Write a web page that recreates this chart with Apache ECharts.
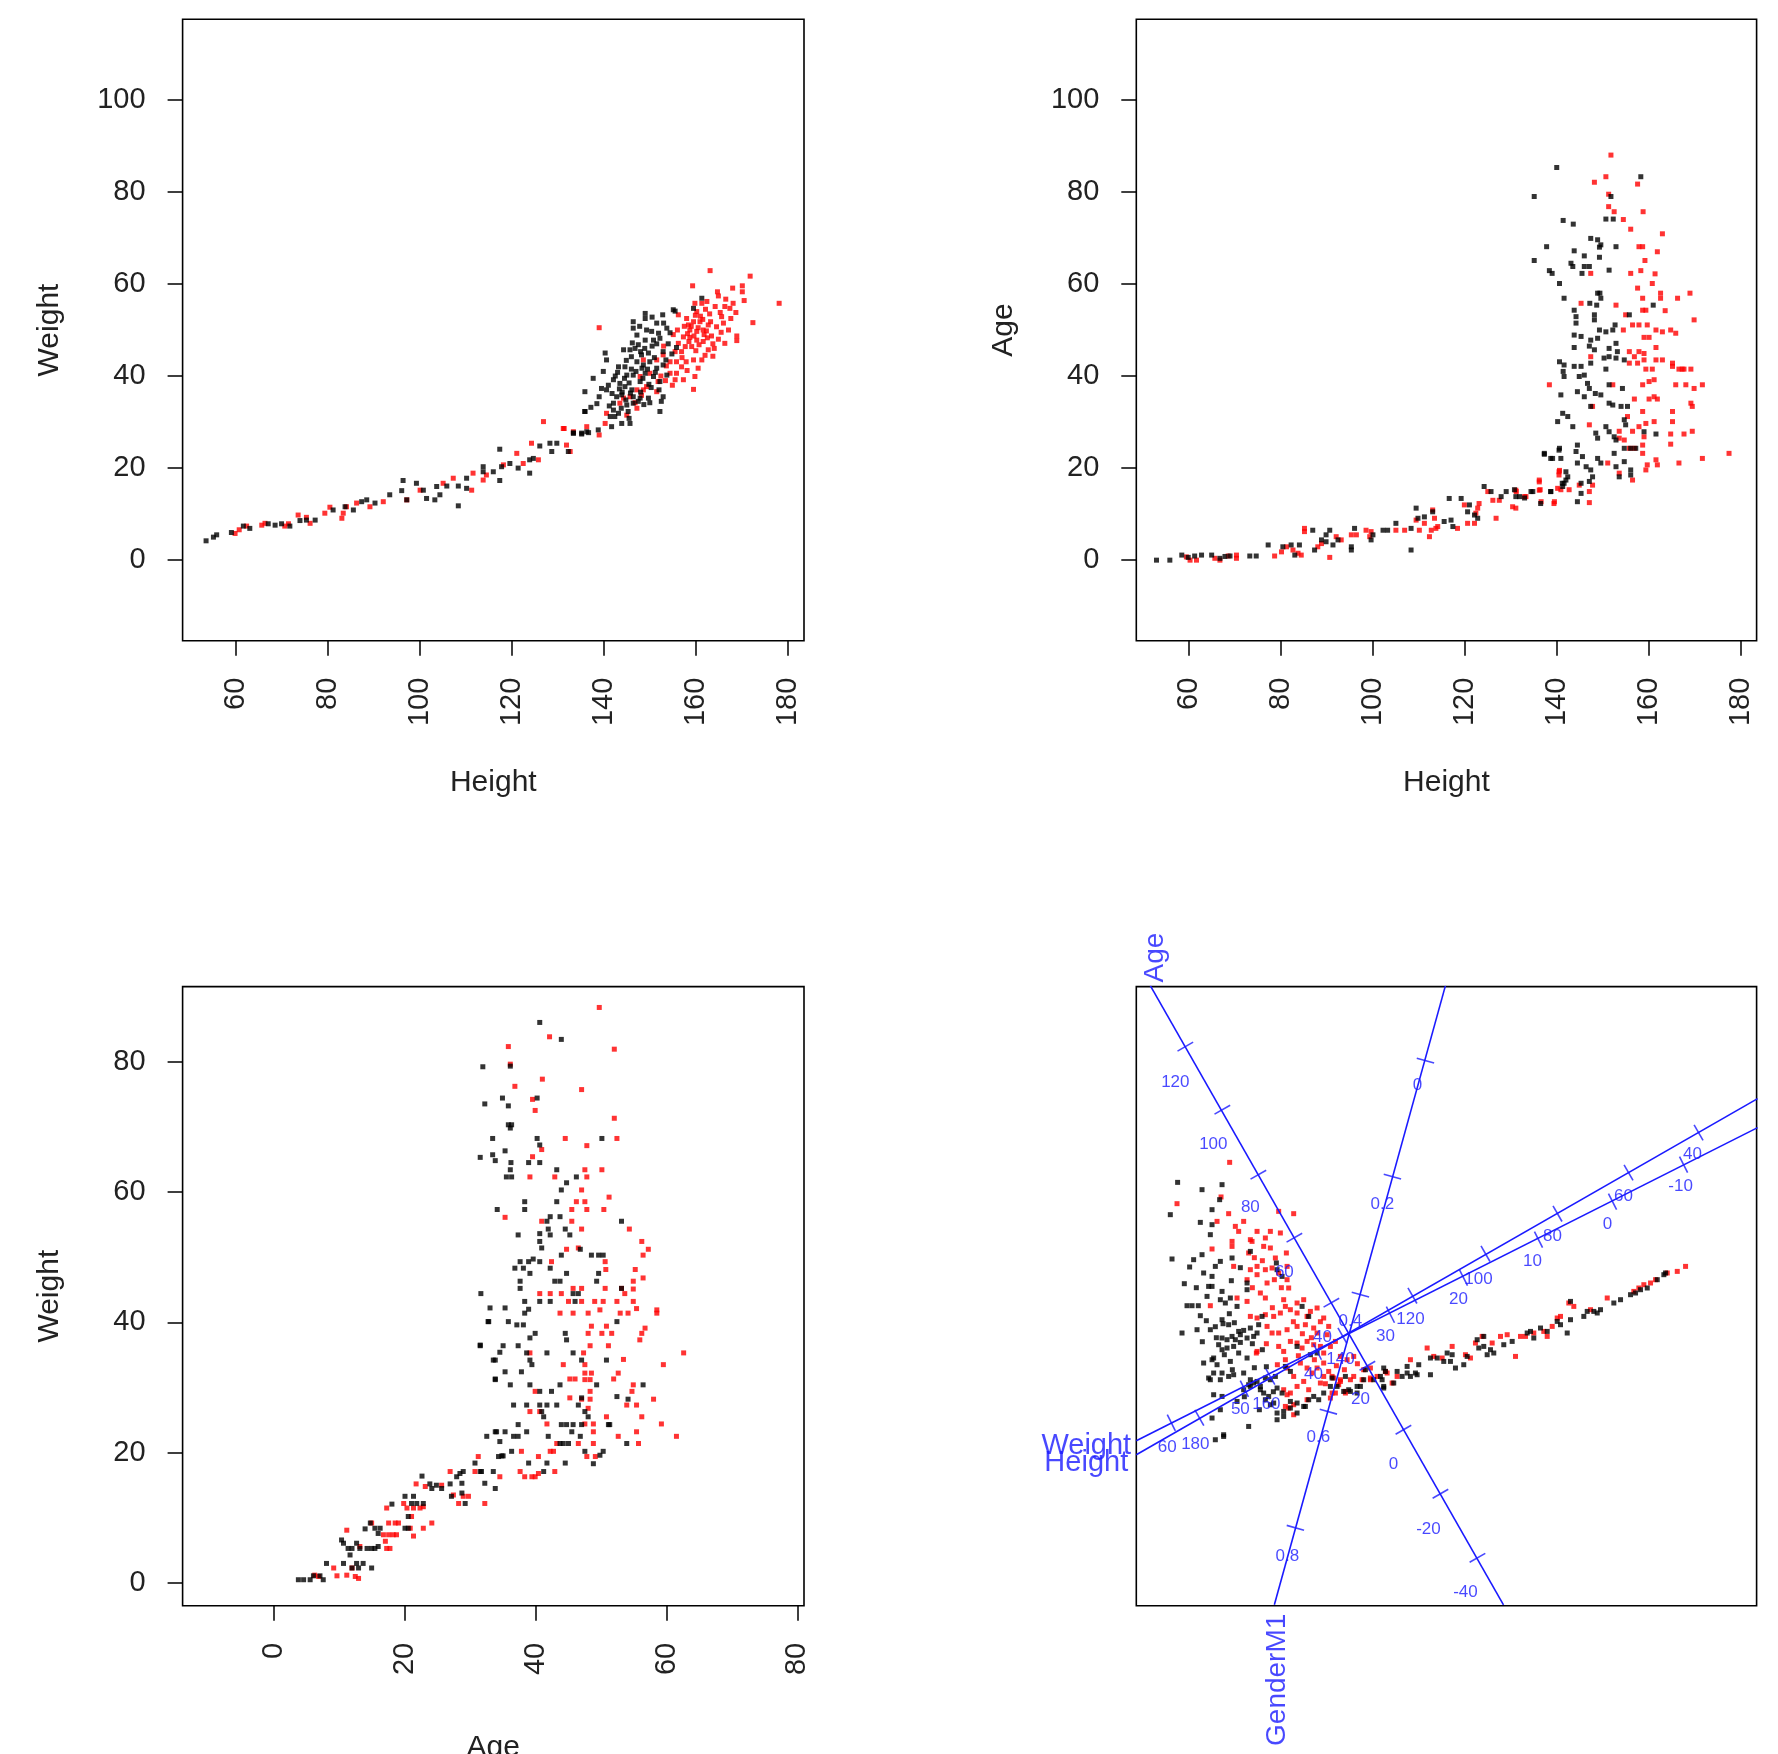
<!DOCTYPE html>
<html>
<head>
<meta charset="utf-8">
<title>Scatter matrix and biplot</title>
<script src="https://cdn.jsdelivr.net/npm/echarts@6/dist/echarts.min.js"></script>
<style>
  body { margin: 0; background: #fff; }
  #chart { width: 1778px; height: 1754px; }
</style>
</head>
<body>
<div id="chart"></div>
<script>
// ---- panel 1: Height vs Weight ----
var p1Red = [[163.1,62.9],[171.8,61.7],[159.3,59.6],[168,59.1],[170.1,59.6],[170.1,58.3],[164.7,58.3],[164.9,57.4],[166.5,56.7],[168.1,55.8],[178.1,55.8],[170.5,56.4],[159.8,55.8],[161.3,55.8],[162.4,56.2],[164.2,55.1],[166.3,55.1],[167.4,54.7],[160.2,54],[168.7,53.8],[156.2,53.3],[165.6,52.9],[172.4,51.6],[158,52.5],[159.5,51.8],[160.9,51.8],[139,50.5],[162.7,51.1],[164.5,50.7],[158.7,50],[160.2,49.7],[161.6,50],[167.1,50],[168.9,48.7],[168.9,47.7],[163.4,48.7],[166.3,47.1],[164.9,48],[157.3,48.5],[158.7,48.4],[160.2,47.8],[161.6,47.5],[156.2,47.1],[157.7,46.4],[159.1,46.4],[162.7,45.7],[155.5,45.3],[156.9,45.3],[152.9,44.6],[159.5,43.5],[161.3,43.5],[154.4,43.1],[155.8,43.1],[156.9,42],[160.5,41.7],[151.5,43.5],[148.6,43.5],[154.4,40.6],[155.8,40.6],[155.5,39.2],[157.3,39.2],[159.8,39.9],[159.5,37.1],[147.9,39.9],[150,40.6],[147.2,37],[148.6,37],[151.5,36.6],[145.7,35.5],[144.3,35.2],[143.5,34.1],[147.2,33],[140.6,31.9],[140.3,29.7],[139,27.2],[131.4,28.6],[133.4,27.9],[136.3,29],[145,31.5],[149.3,37.7],
  [159,50.8],[160.5,50.5],[161.8,49],[162.5,48.3],[158.2,49.2],[163.7,47],[157.5,50.8],[161,53],[163,53.5],[158.5,47.5],[160,45.5],[162,44.5],[157,44],[165.5,49.5],[166,51.5],[153.6,42.2],[152.4,40],[154.9,38],[151.8,38.8],[146.8,34.2],[148.2,35.8],[153,46.5],[155.1,49],
  [159.9,53.2],[161.5,52.3],[163.2,51.8],[162.1,54.5],[158.4,51.1],[160.7,46.8],[164,46],[162.3,49.8],[159.6,48.7],[157.9,43.1],[156,50],[165.3,53.8],[167.6,52.5],[163.7,44.3],[158.1,41.2],[153.4,39],
  [59.9,5.8],[60.8,6.6],[62.4,7.4],[65.7,7.6],[66.4,8],[70.7,7.4],[71.5,7.9],[73.6,9.8],[75.4,9.3],[76.2,8],[79.4,10.2],[80.5,11.5],[83.1,9.1],[83.4,10.2],[84.1,11.6],[86.3,12.4],[89.2,11.6],[92.1,12.7],[97.2,13.1],[100.1,15.2],[105.1,16.7],[107.3,17.8],[111.3,15.2],[111.6,18.9],[113.8,17.4],[114.5,18.5],[118.2,20.7],[121.1,23.2],[122.5,21],[124.3,25.4],[125.8,21.8],[126.9,30.1],[131.2,28.6],[131.9,25],[132.7,23.6]];
var p1Black = [[149,53.6],[149,52.5],[155.1,54.4],[155.5,54.1],[161.3,56.9],[159.5,54.7],[151.5,51.5],[146.4,51.8],[146.4,50.4],[153.7,50.4],[154.4,49.4],[149.3,50],[150.4,49.7],[147.2,48.9],[151.9,49.3],[149,47.8],[150.8,47.8],[152.2,48.2],[145.7,45.7],[146.8,46],[144.3,45.7],[140.3,45],[140.6,43.5],[148.2,44.6],[149.7,45],[152.9,45.3],[147.2,43.1],[148.6,42.4],[150,43.1],[143.2,42],[144.6,42],[139.9,41],[151.5,41.7],[152.9,42.4],[145,40.2],[146.4,40.2],[149,40.6],[150.8,39.9],[153.7,40.2],[137.7,39.5],[142.1,39.2],[143.5,38.4],[147.9,38.8],[152.2,38.8],[139.5,37.3],[140.6,37],[144.6,37.7],[146.1,37],[135.9,36.6],[142.8,35.5],[143.9,35.9],[146.4,35.5],[147.9,35.2],[149.7,35.2],[152.9,35.5],[138.5,34],[142.1,34.1],[145,33.7],[146.4,34.1],[142.1,32.6],[143.2,31.9],[135.9,32.3],[145.3,32.3],[152.2,32.3],[141.4,31.2],[142.4,31.2],[143.9,29.7],[145.7,29.7],[138.8,28.3],[141.7,29],[133.4,27.6],[135.2,27.4],[136.7,27.7],
  [146,44.2],[147.5,46.8],[148.9,46],[150.5,46.5],[151,44],[149.5,41.5],[145.5,38.5],[144,36.5],[141,38],[143,40.8],[148.5,39.5],[150.3,37.5],[152,37],[153.5,43.5],[154,47],[150.5,52.8],[152.8,53.3],[148,36.5],[146,41.5],[141.8,36.2],[144.8,34.8],
  [141.2,33.5],[143.8,33],[144.5,39.5],[145.8,36.3],[147,41],[148.3,41.7],[149.8,38.2],[151.2,40.8],[150,34.2],[147.5,34.5],[143.4,37.2],[142.5,40],[146.2,47.2],[148,45.3],[151.5,47],[153,51.5],[147.8,50.8],[144.9,43.4],[139,35.5],[137.2,33.2],[145.5,30.8],[148.7,33.8],[152.5,34.5],[154.8,44.8],[155.8,46.2],
  [53.6,4.2],[55.2,5],[55.9,5.5],[59.1,6],[61.7,7.4],[63.1,6.9],[67.1,7.9],[68.6,7.6],[70,7.9],[71.8,7.4],[74,8.6],[75.4,8.7],[77.3,8.7],[81.2,10.9],[83.8,11.6],[85.6,10.9],[87.4,12.7],[88.5,13.1],[90.3,12.4],[93.5,14.2],[96.4,17.3],[96.1,15.1],[97.2,13.1],[99.3,16.7],[100.8,15.2],[101.5,13.4],[103.3,13.1],[104.4,14.2],[103.7,16],[105.9,16.1],[108.4,11.8],[108.4,16.1],[110.2,17.8],[110.2,15.6],[113.8,20.3],[113.8,19.2],[116,19.2],[117.4,24.1],[117.8,20.3],[117.4,17.3],[119.6,21],[121.4,20],[123.9,21.8],[123.9,18.9],[124.7,22.1],[126.1,24.8],[128.3,25.4],[128.7,23.6],[129.8,25.4],[132.3,23.6],[133.4,27.6],[135.2,27.6],[135.9,32.3],[136.3,27.9]];

// ---- panel 2: Height vs Age ----
var p2Red = [[151.8,88],[150.7,83.3],[148.2,82.1],[157.6,81.7],[151.3,79.5],[151.3,76.8],[152.5,75.7],[158.8,75.7],[154.5,74],[156.1,71.9],[163,70.9],[157.9,68.1],[158.7,68.1],[161.9,67],[159.2,65.1],[147.4,62.3],[156.1,62.3],[158.3,62.9],[161.4,62.2],[157.6,59.1],[160.8,60.1],[145.3,55.8],[152.9,55.4],[158.7,56.9],[162.6,58],[162.6,56.9],[166.3,56.9],[169,58],[155,53.3],[158.7,54.3],[159.4,54.3],[163.6,54.2],[169.9,52.2],[154.5,50],[156.5,51.1],[157.9,51.1],[159.7,51.1],[161.6,50],[163,49.6],[164.8,50],[165.9,49.3],[159,48.4],[160.1,48.4],[161.6,46.2],[155.8,45.3],[156.9,44.2],[157.9,45.3],[159,44.9],[159,43.5],[161.6,43.5],[163,43.5],[165.2,42.8],[167.3,41.5],[169.2,41.5],[147.4,44.2],[155.8,42.8],[157.6,42.8],[159.4,41.5],[160.8,41.5],[165.2,42.1],[166.6,41.5],[167.7,41.5],[138.4,38.1],[152.2,38.1],[158.7,38.1],[160.1,38.8],[161.2,39.2],[165.9,38.1],[168.1,38.1],[169.9,37.3],[171.7,38.1],[156.9,35],[160.1,35],[161.2,35.5],[161.9,35],[169.2,34.1],[147.8,33.4],[155.4,31.2],[158.7,32.3],[165.2,32.3],[165.2,30.1],[169.5,33.4],[147.1,29.4],[153.6,28],[156.5,28],[157.9,29],[159.4,29.7],[161.2,30.1],[159,26.8],[164.8,27.4],[167.7,27.4],[169.5,28],[153.6,26.5],[154.7,26.1],[155.8,24.3],[156.9,24.3],[158.7,25],[158.7,23.2],[164.8,25.2],[151.1,21.1],[159.7,20.7],[161.6,21.8],[161.9,20.7],[166.6,21.1],[171.7,22.1],[177.5,23.2],[140.6,19.5],[153.6,18.9],[159.4,19.6],[156.5,17.4],[140.9,15.3],[142.7,15.3],[144.9,16.3],[147.8,16.3],[147.1,14.9],[136.2,17.4],[136.4,15.3],[131.2,14.9],[133,13.8],[136.6,12.7],[139.5,12.7],[147.1,12.5],[130.4,11.6],
  [59.4,0.7],[60.2,0],[61.6,0],[65.6,0.4],[66.7,0],[68.5,0.9],[70.3,0.4],[70.3,1.1],[78.6,0.9],[80.1,1.8],[81.2,2.9],[82.6,2.2],[83.7,1.5],[84.4,1.1],[85.1,6.9],[85.1,6.2],[88,2.9],[88.8,3.6],[90.6,0.6],[92,5.1],[93.1,4.4],[95.3,5.5],[96.4,5.5],[98.5,6.5],[99.6,6.2],[99.3,5.1],[105,6.5],[106.9,6.5],[109.4,8.7],[110.1,6.5],[111.2,8],[112.3,5.1],[112.7,6.5],[113,10.9],[113.4,9.1],[113.7,6.9],[114.1,7.3],[118.4,6.9],[119.9,12],[120.6,8],[122.1,8],[122.8,11.3],[122.4,10.2],[123.1,12.3],[125,14.9],[126.1,13],[126.8,9.1],[127.5,13],[131.1,15.2],[131.1,11.3],[133.3,13.8],[136.2,17],[136.2,15.2],[139.4,12.3],[140.2,15.6],[140.5,19.2],[140.5,18.5]];
var p2Black = [[140,85.3],[158.3,83.3],[135.1,79],[151.8,79],[141.4,73.8],[143.6,73],[150.7,74.1],[152.3,74.1],[147.4,69.9],[148.9,69.6],[149.6,68.5],[149.3,68],[152.9,68.1],[137.8,68.1],[143.8,67.2],[146,66.1],[149.3,65.8],[135.1,65.1],[143.1,64.5],[143.5,63.8],[146,63.8],[147.1,63.8],[145.5,62.3],[151.4,63],[138.4,62.9],[139,62.3],[140.6,60.1],[141.6,56.9],[148.9,58],[149.4,58],[147.2,55.8],[148.7,55.4],[149.6,56.9],[161,55.4],[143.8,54.3],[144.2,52.9],[144.2,51.5],[148.2,53.3],[148.2,52.2],[155.8,53.3],[152.7,51.1],[152.2,50],[150.7,49.6],[149.3,50],[143.8,48.9],[145.3,48.6],[147.4,47.8],[148.9,48.2],[143.8,46.2],[147.1,46.5],[148.2,45.7],[151.4,46],[152.9,47.1],[153.2,45.3],[140.6,43.1],[141.6,42.4],[143.8,42.1],[145.3,42.1],[147.4,42.8],[150.7,41.5],[150.3,43.9],[151.4,44.2],[152.9,43.9],[154.7,43.5],[141.4,41],[141.6,39.9],[144.9,39.9],[146,40.2],[147.1,37.3],[146.7,38.4],[148.4,36.2],[149.6,35.9],[151.4,38.1],[154.3,37.3],[140.9,35.9],[144.5,36.6],[146,35.5],[147.4,33.4],[151.4,34.1],[152.2,33.7],[154,33.4],[155.4,33.4],[141.3,31.9],[142.4,31.2],[140.2,30.1],[154.7,30.5],[155,29.4],[143.5,29],[148.5,27.6],[148.9,26.5],[150.7,29],[151.4,27.9],[152.5,26.8],[152.9,26.1],[154.7,24.3],[156.1,24.3],[157.2,24.3],[159,27.9],[161.6,27.4],[137.3,23.2],[138.7,22.1],[140.6,24.3],[144.5,25],[144.2,23.6],[145.6,22.5],[144.5,21.1],[146.4,20.3],[147.4,19.6],[148.9,22.1],[149.6,21.1],[152.5,23.2],[154.7,21.4],[156.1,19.6],[156.1,18.5],[142,19.2],[142.4,18.1],[141.6,16.7],[145.3,16.7],[147.1,17.1],[147.8,18.1],[152.9,20.3],[153.6,18.1],[134.8,14.9],[138.7,14.9],[141.3,16],[144.5,12.7],[130.8,15.3],[131.9,13.8],[133,13.5],[145.3,14.5],
  [52.9,0],[55.8,0],[58.4,1.1],[59.8,0.6],[61.2,0.9],[62.7,1.1],[64.9,1.1],[66.7,0.4],[67.8,0.8],[68.9,0.9],[73.2,0.9],[74.6,0.9],[77.2,3.3],[80.4,2.9],[82.2,3.3],[84,3.3],[83,1.1],[86.9,6.5],[87.3,2.2],[88.8,4.4],[89.8,5.5],[90.6,6.5],[89.8,4],[91.3,3.3],[92.4,4.4],[95.3,2.9],[95.3,2.2],[96,6.9],[99.6,4.4],[100,5.5],[102.2,6.5],[103.2,6.5],[105,8],[108.3,2.2],[108.3,6.9],[109.4,11.3],[109.8,9.1],[111.2,9.4],[113,10.5],[115.5,8.4],[117,8.7],[117.4,7.3],[116.6,13.4],[119.2,13.4],[120.6,10.5],[121,12],[122.8,9.1],[122.1,9.8],[124.2,16],[125.7,14.9],[127.9,13.8],[129,14.9],[131.1,13.8],[134.4,14.9],[136.5,12.3],[138.7,14.9],[137.3,23],[139.1,22.1],[140.9,22.1],[140.5,23.9],[141.2,16.7],[142,17.4]];

// ---- panel 3: Age (x) vs Weight (y) ----
var p3Red = [[49.7,88.3],[42.1,83.8],[35.8,82.3],[52,81.9],[36.1,79.6],[41,77.3],[36.8,76.2],[47,75.7],[39.5,74.2],[39.9,72.5],[52,71.3],[44.5,68.2],[47.8,67.1],[52.4,68.2],[40.9,66.5],[39.5,65.4],[39.1,62.3],[42.9,62.3],[47.5,63.4],[47.8,62.3],[50.1,63.4],[47,60.3],[51.2,59.2],[46.2,58.5],[47.5,58.5],[45.5,57.3],[47.8,57.3],[50.4,57.3],[35.3,56.1],[40.9,55.5],[45.5,55.5],[47,54.3],[54.3,54.3],[56.2,52.4],[44.7,51.2],[46.5,51.4],[57.2,51.2],[56.4,50.3],[42.4,49.3],[50.6,49.3],[50.7,48.1],[55.2,48.1],[54.9,46.3],[54.9,45.1],[53.6,44.4],[56.4,46.8],[40.6,44.4],[42.2,44.4],[43.9,44.4],[45.7,45.2],[47,45.2],[50.6,45.2],[53.1,45.2],[45,43.2],[47,43.2],[49,43.2],[50.3,43.2],[52.4,43.2],[54.9,43.2],[43.7,41.4],[45.7,41.4],[48,41.4],[49.8,41.9],[52.9,41.4],[54.1,41.4],[55.4,42.1],[58.5,41.9],[58.5,41.4],[48.5,39.4],[50.8,39.4],[48,38.3],[50.1,38.3],[51.6,38.3],[56.2,38.3],[56.7,39.1],[39.1,35.3],[47.3,35.3],[48.3,36.4],[51.1,36.4],[53.4,34.3],[55.9,37.3],[62.6,35.3],[44.2,33.5],[47.5,33.5],[59.5,33.5],[45.2,31.3],[46,31.3],[47.5,32.2],[48.5,32.2],[47.5,31.2],[48.3,31.2],[51.9,31.3],[52.6,32.2],[54.9,30.4],[39.9,29.4],[45.2,28.4],[47,28.2],[48.3,29.4],[48.3,28.2],[54.7,29.4],[58,28.2],[39.1,26.3],[40.6,26.3],[48,26.8],[50.8,25.5],[53.9,27.3],[55.4,27.3],[56.2,25.5],[41.7,24.4],[47.5,24.4],[48.8,24.4],[48.8,23.2],[59.2,24.4],[43.2,21.4],[46.5,21.4],[48.8,21.4],[52.6,22.5],[55.4,23.2],[55.7,21.4],[61.5,22.5],[37.8,20.2],[40.4,19.4],[42.2,20.2],[42.7,20.2],[47.8,19.4],[49.1,19.4],[31.2,19.4],[30.7,17.1],[34.5,16.3],[37.6,17.1],[38.3,16.3],[39.4,16.3],[39.9,16.3],[40.4,16.8],[42.9,17.1],
  [26.9,17.1],[21.7,15.2],[23.1,14.8],[25.6,15],[27.4,13.5],[28.9,13.3],[29.7,13.3],[28.2,12.2],[32.2,12.2],[19.8,12.2],[20.3,11.5],[21.3,11.5],[22.3,11.5],[22.8,11.7],[17.2,11.5],[21,10.2],[14.9,9.2],[17.5,9.2],[18.5,9.2],[19,9.2],[20.8,8.4],[24.1,9.2],[22.8,8.4],[11.1,8.1],[16.7,7.4],[17.5,7.4],[18.2,7.4],[18.7,7.4],[21.3,7.2],[17,6.4],[17.2,5.3],[17.7,5.3],[13.1,5.6],[9.1,2.3],[11.9,2.3],[6.2,1.2],[6.8,1],[9.6,1.1],[11.1,1.2],[12.4,1],[12.9,0.7]];
var p3Black = [[40.6,86],[43.9,83.4],[31.9,79.2],[36.1,79.3],[34.9,74.4],[40.2,74.4],[32.2,73.5],[35.8,73.2],[35.8,70.3],[36.1,69.8],[36.3,70.3],[33.4,68.2],[40.2,68.2],[50.1,68.2],[40.6,67.2],[35.3,66.3],[31.5,65.3],[33.4,65.7],[33.8,64.8],[36.2,64.5],[38.9,64.5],[40.6,64.5],[36.1,63.4],[35.5,62.3],[36.3,62.3],[43.2,63.4],[46.2,62.3],[44.7,61.4],[43.9,60.3],[38.3,58.5],[38.3,57.3],[43.2,58.5],[34.1,57.3],[42.2,56.2],[43.7,56.2],[53.1,55.5],[41.7,55.5],[44.5,54.3],[45.2,53.4],[41.9,54.3],[40.6,53.6],[42.2,53.4],[37.3,53.4],[40.6,52.4],[40.9,51.4],[43.9,50.3],[46.8,51.2],[48.5,50.3],[49.6,50.3],[50.3,50.3],[37.6,49.3],[38.9,49.3],[39.6,49.7],[40.6,49.3],[36.8,48.3],[38.1,48.3],[39.1,47.5],[42.2,48.3],[44.7,47.5],[49.6,47.5],[37.6,46.3],[37.6,45.2],[42.9,46.3],[43.7,46.3],[49.3,46.3],[53.1,45.2],[31.6,44.4],[38.3,43.2],[40.6,43.2],[42.2,43.2],[45.7,44.4],[46.5,44.4],[46,43.2],[33,42.2],[35.3,42.2],[38.3,41.4],[38.9,42],[32.7,40.1],[35.8,40.1],[37.1,39.6],[38.1,39.6],[52.4,40.1],[39.9,38.3],[39.1,37.6],[44.5,38.3],[44.7,37.3],[31.5,36.4],[35,36.4],[37.3,36.4],[38.6,35.3],[39.1,34.2],[39.4,33.5],[41.7,35.3],[45.7,35.3],[47,34.2],[50.8,34.2],[33.5,34.2],[34.5,35.4],[35.3,32.4],[37.8,32.4],[33.8,31.3],[36.1,30.4],[39.1,30.4],[40.6,29.4],[42.4,29.4],[43.7,30.4],[49.3,30.4],[56.4,30.4],[36.6,27.3],[38.6,27.3],[40.6,27.3],[41.7,27.3],[43.2,27.3],[46.5,27.3],[40.9,26.3],[41.2,25.5],[47.5,26.3],[48,25.5],[47,28.4],[54.1,28.2],[52.4,28.6],[37.3,24.3],[43.9,24.3],[44.7,24.3],[45.7,24.3],[47,24.3],[51.1,24.3],[51.3,24.3],[34,23.2],[35.3,23.2],[36.6,22.5],[37.3,22.5],[38.6,23.2],[41.9,22.5],[45.5,23.2],[34.5,21.7],[43.7,21.4],[44.2,21.4],[45,21.4],[46.8,22.5],[53.9,21.4],[34.8,19.5],[35,19.5],[36.3,20.2],[47.5,20.2],[49.8,19.6],[50.3,20.2],[48.8,18.3],[30.7,18.4],[31.7,17.1],[33.5,17.1],[38.9,18.4],[41.7,18.4],[44.5,18.4],[41.2,17.1],[28.9,17.1],
  [32.8,40.1],[31.5,36.5],[33.8,34.2],[33.8,31.2],[32.5,22.5],[33.8,23.2],[34.3,19.4],[31.5,17.1],[32.2,15.3],[33.8,14.5],[22.6,16.4],[28.4,16.8],[27.9,16.3],[28.7,15.3],[26.9,15.2],[28.7,13.8],[29.2,12.2],[23.8,15.2],[24.8,15],[25.6,14.5],[24.1,14.5],[20,13.3],[21.3,13.3],[21.8,12.2],[22.8,12.2],[21,12.2],[27.1,13.3],[18,12.1],[20.5,10.2],[13.9,8.3],[15.4,8.4],[16.2,8.4],[20,8.4],[20.5,8.4],[15.9,7.6],[14.7,9.2],[10.3,6.6],[10.6,6.1],[11.3,5.3],[11.9,5.3],[12.6,6.1],[13.1,5.3],[14.2,5.3],[14.9,5.3],[15.4,5.3],[15.9,5.6],[11.6,4.3],[12.6,3],[10.6,3],[13.6,3],[14.9,2.3],[8,3],[11.9,2.3],[12.9,2.3],[6,1.1],[7,1.1],[3.7,0.5],[4.5,0.5],[5.5,0.5],[7.5,0.5]];

// ---- panel 4: biplot point coordinates (biplot frame) ----
var p4Black = [[41.3,423.3],[65.7,416],[85.7,421],[83.3,406],[75.7,396],[34,391],[64,383.3],[75.7,381],[74,371],[35.7,346.7],[57.3,346],[65.7,351],[53.3,338.7],[67.3,332.7],[75.7,329.3],[79,339.3],[84,344.3],[95.7,347.7],[114,354.3],[140,342.7],[140.7,336],[145.7,329.3],[72.3,319.3],[75.7,319.3],[70.7,309.3],[85.7,314.3],[84,306],[94,307.7],[89,302.7],[110.7,322.7],[110.7,316],[100.7,299.3],[50.7,300],[55.7,300],[64,290],[85.7,286],[86.7,282],[92.3,281],[45.7,272.7],[60.7,276],[74,276],[85.7,267.7],[90.7,266],[95.7,269.3],[99,266],[102.3,274.3],[104,271],[107.3,275.3],[114,277.7],[122.3,281],[125.7,289.3],[82.3,261],[85.7,256],[90.7,257.7],[97.3,259.3],[104,263.3],[110.7,267.7],[117.3,269.3],[120.7,272.7],[67.3,242.7],[75.7,246],[77.3,247.7],[80.7,241],[94,244.3],[102.3,252.7],[110.7,247.7],[72.3,227.7],[77.3,232.7],[84,226],[92.3,229.3],[107.3,232.7],[114,226],[114,219.3],[120.7,224.3],[124,216],[129,227.7],[134,226],[139,229.3],[140.7,217.7],[149,239.3],[154,234.3],[145.7,212.7],[129,206],[134,201],[140.7,192.7],[147.3,189.3],[154,197.7],[160.7,202.7],[169,199.3],[177.3,209.3],[182.3,206],[187.3,212.7],[194,219.3],[195.7,227.7],[209,229.3],[212.3,216],[224,219.3],[220.7,212.7],[244,229.3],[247.3,219.3],[165.7,299.3],[172.3,289.3],[174,251],[180.7,252.7],[160.7,259.3],[112.3,179.3],[87.3,169.3],[75.7,187.7],[84,196],
  [74,226],[85.7,232.7],[97.3,231],[77.3,211],[85.7,209.3],[100.7,204.3],[107.3,216],[112.3,221],[117.3,222.7],[124,219.3],[127.3,212.7],[132.3,209.3],[137.3,202.7],[140.7,186],[147.3,194.3],[154,204.3],[160.7,192.7],[167.3,199.3],[172.3,206],[79,166],[87.3,171],[294,231],[280.7,231],[270.7,232.7],[257.3,222.7],[247.3,217.7],
  [62,300],[70,285],[79,279],[93,292],[98,283],[66,264],[80,268],[116,262],[126,256],[130,239],[96,236],[88,251],[118,238],[108,209],[123,196],[137,214],[60,318],[48,322],[95,325],[104,338],
  [200.7,219.3],[207.3,214.3],[214,214.3],[220.7,219.3],[227.3,226],[229,236],[237.3,226],[245.7,226],[247.3,237.7],[249,234.3],[260.7,234.3],[265.7,229.3],[270.7,239.3],[274,229.3],[279,232.7],[282.3,241],[294,247.7],[300.7,247.7],[307.3,244.3],[310.7,252.7],[314,244.3],[315.7,251],[319,237.7],[327.3,241],[330.7,249.3],[340.7,266],[342.3,257.7],[347.3,259.3],[347.3,269.3],[350.7,251],[354,256],[357.3,252.7],[367.3,261],[375.7,264.3],[390.7,272.7],[397.3,267.7],[394,274.3],[404,277.7],[410.7,274.3],[420.7,284.3],[424,281],[430.7,272.7],[434,304.3],[434,286],[447.3,289.3],[450.7,294.3],[457.3,294.3],[460.7,292.7],[464,296],[477.3,302.7],[484,306],[494,311],[499,312.7],[504,316],[510.7,317.7],[520.7,326],[527.3,331],[529,332.7]];
var p4Red = [[93.3,443.3],[40.7,402],[84.7,408.7],[92.3,392],[142.3,394.3],[157.3,392],[80.7,384.3],[99,379.3],[107.3,384.3],[95.7,364.3],[114,366],[120.7,374.3],[129,367.7],[134,374.3],[144,372.7],[102.3,374.3],[75.7,356.7],[95.7,359.3],[112.3,352.7],[115.7,364.3],[127.3,359.3],[134,357.7],[150,352.7],[97.3,339.3],[114,336],[120.7,339.3],[120.7,331],[129,336],[135.7,337.7],[142.3,332.7],[150.7,339.3],[139,347.7],[110.7,326],[130.7,322.7],[150.7,326],[152.3,317.7],[124,312.7],[129,307.7],[147.3,306],[149,299.3],[160.7,302.7],[167.3,306],[74,300],[100.7,307.7],[110.7,304.3],[114,289.3],[120.7,287.7],[129,291],[137.3,289.3],[144,292.7],[154,296],[160.7,292.7],[170.7,289.3],[174,294.3],[180.7,297.7],[187.3,287.7],[130.7,279.3],[135.7,272.7],[142.3,272.7],[150.7,276],[160.7,279.3],[169,281],[177.3,277.7],[180.7,272.7],[190.7,271],[192.3,279.3],[199,264.3],[120.7,254.3],[142.3,259.3],[147.3,254.3],[149,246],[154,264.3],[160.7,262.7],[165.7,257.7],[170.7,264.3],[177.3,261],[184,259.3],[187.3,252.7],[194,259.3],[204,249.3],[210.7,246],[217.3,249.3],[227.3,236],[234,226],[150.7,237.7],[157.3,229.3],[164,242.7],[170.7,237.7],[175.7,232.7],[180.7,237.7],[187.3,242.7],[187.3,229.3],[192.3,234.3],[195.7,229.3],[199,212.7],[195.7,212.7],[204,224.3],[214,226],[225.7,226],[147.3,216],[154,212.7],[160.7,219.3],[167.3,224.3],[152.3,197.7],[157.3,191],[149,199.3],[170.7,206],[120,252.7],
  [150.7,211],[157.3,201],[172.3,216],[184,222.7],[194,207.7],[202.3,221],[209,214.3],[234,227.7],[250.7,232.7],[260.7,229.3],
  [118,348],[126,345],[138,326],[145,318],[116,318],[136,298],[157,284],[166,272],[175,268],[184,284],[200,240],[208,236],[141,241],[130,262],[162,250],[178,246],[189,222],[221,242],
  [197.3,227.7],[204,226],[209,212.7],[217.3,229.3],[234,237.7],[240.7,229.3],[249,234.3],[255.7,222.7],[274,246],[290.7,257.7],[297.3,249.3],[305.7,247.7],[315.7,259.3],[329,251],[334,247.7],[339,262.7],[345.7,269.3],[355.7,262.7],[364,269.3],[370.7,271],[379,249.3],[384,269.3],[389,269.3],[397.3,272.7],[407.3,274.3],[410.7,269.3],[415.7,279.3],[420.7,287.7],[424,289.3],[432.3,302.7],[437.3,299.3],[454,296],[470.7,307.7],[497.3,314.3],[502.3,317.7],[507.3,321],[514,322.7],[519,326],[530.7,332.7],[540.7,334.3],[549,339.3]];

// ---- biplot calibrated axes (biplot frame) ----
var ageLine = [[14,620],[367,1]];
var genderLine = [[309,620],[138,1]];
var heightLine = [[0,151],[621,507]];
var weightLine = [[0,165],[621,478]];

var ageTickVals = ['120','100','80','60','40','20','0','-20','-40'];
var ageTickPos = [[49,559],[86,496],[122,431],[158,368],[195,303],[231,240],[267,176],[304,112],[341,48]];
var ageLabelPos = [[39,523],[77,461],[114,398],[148,333],[186,268],[224,206],[257,141],[292,76],[329,13]];

var genderTickVals = ['0','0.2','0.4','0.6','0.8'];
var genderTickPos = [[289,545],[256,429],[224,311],[192,194],[159,78]];
var genderLabelPos = [[281,520],[246,401],[214,284],[182,168],[151,49]];

var heightTickVals = ['40','60','80','100','120','140','160','180'];
var heightTickPos = [[562,473],[492,433],[421,392],[349,352],[276,310],[206,270],[134,229],[63,188]];
var heightLabelPos = [[556,451],[487,409],[416,369],[342,326],[274,286],[204,246],[130,201],[59,161]];

var weightTickVals = ['-10','0','10','20','30','40','50','60'];
var weightTickPos = [[547,441],[476,404],[402,366],[327,328],[254,291],[181,254],[108,217],[35,183]];
var weightLabelPos = [[544,419],[471,381],[396,344],[322,306],[249,269],[177,231],[104,196],[31,158]];

// ---- axis ticks for the scatter panels ----
var heightTicks = [60,80,100,120,140,160,180];
var yTicks0to100 = [0,20,40,60,80,100];
var ageTicks = [0,20,40,60,80];
var weightTicks = [0,20,40,60,80];

var FONT = 'Liberation Sans, Arial, Helvetica, sans-serif';
var TXT = '#222';
var BLUE = '#1a1aff';

function valAxis(gi, min, max, ticks, name, isX) {
  return {
    gridIndex: gi, type: 'value', min: min, max: max,
    name: name, nameLocation: 'middle', nameGap: isX ? 127 : 118,
    nameTextStyle: { fontSize: 30, color: TXT, fontFamily: FONT },
    splitLine: { show: false },
    axisLine: { show: false, onZero: false },
    axisTick: { show: true, length: 15, customValues: ticks, lineStyle: { color: '#000', width: 1.5 } },
    axisLabel: { customValues: ticks, rotate: isX ? 90 : 0, margin: 37, fontSize: 29, color: TXT, fontFamily: FONT }
  };
}
function hiddenAxis(gi, min, max) {
  return { gridIndex: gi, type: 'value', min: min, max: max, show: false, splitLine: { show: false },
    axisLine: { onZero: false } };
}

function pts(gi, data, color) {
  return { type: 'scatter', xAxisIndex: gi, yAxisIndex: gi, data: data, symbol: 'rect', symbolSize: 5,
    itemStyle: { color: color }, silent: true };
}
function bLine(line) {
  return { type: 'line', xAxisIndex: 3, yAxisIndex: 3, data: line, showSymbol: false, silent: true,
    lineStyle: { color: BLUE, width: 1.6 } };
}
function bTicks(line, pos) {
  var ang = Math.atan2(line[1][1] - line[0][1], line[1][0] - line[0][0]) * 180 / Math.PI;
  return { type: 'scatter', xAxisIndex: 3, yAxisIndex: 3, data: pos, symbol: 'rect', symbolSize: [1.6, 18],
    symbolRotate: ang, itemStyle: { color: BLUE }, silent: true };
}
function bLabels(vals, pos) {
  return { type: 'scatter', xAxisIndex: 3, yAxisIndex: 3, symbolSize: 0, silent: true, clip: false,
    data: pos.map(function (p, i) { return { value: p, name: vals[i] }; }),
    label: { show: true, position: 'inside', formatter: '{b}', fontSize: 17, color: BLUE, fontFamily: FONT } };
}
function bName(text, p, opts) {
  var lab = Object.assign({ show: true, position: 'inside', formatter: '{b}', fontSize: 29, color: BLUE, fontFamily: FONT }, opts);
  return { type: 'scatter', xAxisIndex: 3, yAxisIndex: 3, symbolSize: 0, silent: true, clip: false,
    data: [{ value: p, name: text }], label: lab };
}

var gridStyle = { show: true, borderColor: '#000', borderWidth: 1.6, backgroundColor: 'transparent',
  containLabel: false, outerBoundsMode: 'none' };
var option = {
  animation: false,
  backgroundColor: '#fff',
  grid: [
    Object.assign({ left: 182.6, top: 19.3, width: 621.4, height: 621.4 }, gridStyle),
    Object.assign({ left: 1136.3, top: 19.3, width: 620.3, height: 621.4 }, gridStyle),
    Object.assign({ left: 182.6, top: 986.6, width: 621.4, height: 619.2 }, gridStyle),
    Object.assign({ left: 1136.3, top: 986.6, width: 620.3, height: 619.2 }, gridStyle)
  ],
  xAxis: [
    valAxis(0, 48.5, 183.5, heightTicks, 'Height', true),
    valAxis(1, 48.5, 183.5, heightTicks, 'Height', true),
    valAxis(2, -14, 81, ageTicks, 'Age', true),
    hiddenAxis(3, 0, 620)
  ],
  yAxis: [
    valAxis(0, -17.5, 117.5, yTicks0to100, 'Weight', false),
    valAxis(1, -17.5, 117.5, yTicks0to100, 'Age', false),
    valAxis(2, -3.5, 91.5, weightTicks, 'Weight', false),
    hiddenAxis(3, 0, 619)
  ],
  series: [
    pts(0, p1Red, '#ff0000'), pts(0, p1Black, '#000000'),
    pts(1, p2Red, '#ff0000'), pts(1, p2Black, '#000000'),
    pts(2, p3Red, '#ff0000'), pts(2, p3Black, '#000000'),
    pts(3, p4Red, '#ff0000'), pts(3, p4Black, '#000000'),
    bLine(ageLine), bLine(genderLine), bLine(heightLine), bLine(weightLine),
    bTicks(ageLine, ageTickPos), bTicks(genderLine, genderTickPos),
    bTicks(heightLine, heightTickPos), bTicks(weightLine, weightTickPos),
    bLabels(ageTickVals, ageLabelPos), bLabels(genderTickVals, genderLabelPos),
    bLabels(heightTickVals, heightLabelPos), bLabels(weightTickVals, weightLabelPos),
    bName('Age', [19, 648], { rotate: 90, fontSize: 28 }),
    bName('GenderM1', [141, -74], { rotate: 90, fontSize: 28 }),
    bName('Weight', [-50, 160], { fontSize: 29 }),
    bName('Height', [-50, 143], { fontSize: 29 })
  ]
};

var chart = echarts.init(document.getElementById('chart'));
chart.setOption(option);
</script>
</body>
</html>
